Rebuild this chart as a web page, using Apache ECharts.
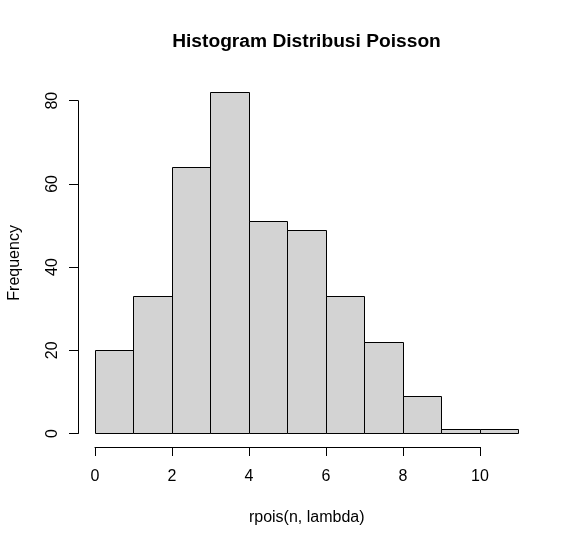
<!DOCTYPE html>
<html>
<head>
<meta charset="utf-8">
<script src="https://cdn.jsdelivr.net/npm/echarts@6/dist/echarts.min.js"></script>
<style>
  html, body { margin: 0; padding: 0; background: #fff; }
  #chart { width: 576px; height: 545px; }
</style>
</head>
<body>
<div id="chart"></div>
<script>
// histogram bins (integer breaks) and counts
const breaks = [0, 1, 2, 3, 4, 5, 6, 7, 8, 9, 10, 11]
const counts = [20, 33, 64, 82, 51, 49, 33, 22, 9, 1, 1]
const xTickRange = [0, 10]
const yTickRange = [0, 80]

const bins = counts.map((c, i) => [breaks[i], breaks[i + 1], c])

const font = '"Liberation Sans", Arial, sans-serif'

const chart = echarts.init(document.getElementById('chart'), null, { renderer: 'canvas' })

const option = {
  backgroundColor: '#fff',
  animation: false,
  graphic: [
    {
      type: 'text',
      x: 306.5,
      y: 42,
      style: {
        text: 'Histogram Distribusi Poisson',
        fill: '#000',
        font: 'bold 19.2px ' + font,
        textAlign: 'center',
        textVerticalAlign: 'middle'
      }
    }
  ],
  grid: [
    // plot region (R usr coords, 4% extension)
    { left: 78, right: 40.6, top: 78.7, bottom: 97.9, outerBoundsMode: 'none', containLabel: false },
    // region spanned by the drawn axes
    { left: 95, right: 96, top: 100.7, bottom: 111.5, outerBoundsMode: 'none', containLabel: false }
  ],
  xAxis: [
    {
      gridIndex: 0, type: 'value', min: -0.44, max: 11.44,
      axisLine: { show: false }, axisTick: { show: false },
      axisLabel: { show: false }, splitLine: { show: false },
      name: 'rpois(n, lambda)', nameLocation: 'middle', nameGap: 62,
      nameTextStyle: { fontFamily: font, fontSize: 16, color: '#000' }
    },
    {
      gridIndex: 1, type: 'value', min: xTickRange[0], max: xTickRange[1], interval: 2,
      offset: 13.5,
      axisLine: { show: true, onZero: false, lineStyle: { color: '#000', width: 1 } },
      axisTick: { show: true, length: 9, lineStyle: { color: '#000', width: 1 } },
      axisLabel: { fontFamily: font, fontSize: 16, color: '#000', margin: 22 },
      splitLine: { show: false }
    }
  ],
  yAxis: [
    {
      gridIndex: 0, type: 'value', min: -3.28, max: 85.28,
      axisLine: { show: false }, axisTick: { show: false },
      axisLabel: { show: false }, splitLine: { show: false },
      name: 'Frequency', nameLocation: 'middle', nameGap: 55,
      nameTextStyle: { fontFamily: font, fontSize: 16, color: '#000' }
    },
    {
      gridIndex: 1, type: 'value', min: yTickRange[0], max: yTickRange[1], interval: 20,
      offset: 17,
      axisLine: { show: true, onZero: false, lineStyle: { color: '#000', width: 1 } },
      axisTick: { show: true, length: 9, lineStyle: { color: '#000', width: 1 } },
      axisLabel: { fontFamily: font, fontSize: 16, color: '#000', rotate: 90, margin: 17 },
      splitLine: { show: false }
    }
  ],
  series: [
    {
      type: 'custom',
      xAxisIndex: 0,
      yAxisIndex: 0,
      data: bins,
      encode: { x: [0, 1], y: 2 },
      renderItem: (params, api) => {
        const p0 = api.coord([api.value(0), 0])
        const p1 = api.coord([api.value(1), api.value(2)])
        return {
          type: 'rect',
          shape: {
            x: Math.round(p0[0]) + 0.5,
            y: Math.round(p1[1]) + 0.5,
            width: Math.round(p1[0]) - Math.round(p0[0]),
            height: Math.round(p0[1]) - Math.round(p1[1])
          },
          style: { fill: '#d3d3d3', stroke: '#000', lineWidth: 1 }
        }
      }
    }
  ]
}

chart.setOption(option)
</script>
</body>
</html>
